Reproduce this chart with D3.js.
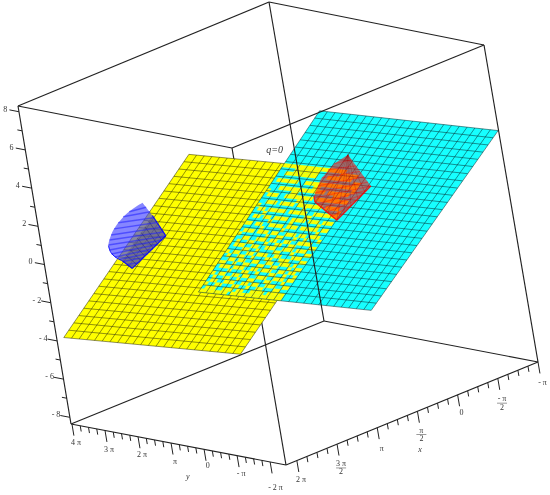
<!DOCTYPE html>
<html><head><meta charset="utf-8">
<style>html,body{margin:0;padding:0;background:#fff}svg{display:block}
text{font-family:"Liberation Serif",serif;fill:#333}</style>
<script src="https://cdn.jsdelivr.net/npm/d3@7/dist/d3.min.js"></script>
</head><body><svg id="c" width="550" height="495"><defs><filter id="soft" x="0" y="0" width="100%" height="100%" filterUnits="userSpaceOnUse"><feGaussianBlur stdDeviation="0.35"/></filter></defs></svg>
<script>
const PI = Math.PI;
// ---- axis values (x and y in multiples of pi)
const zTicks = [8,6,4,2,0,-2,-4,-6,-8];
const zMinor = [7,5,3,1,-1,-3,-5,-7];
const yTicks = [4,3,2,1,0,-1,-2];
const yTickLabels = ["4 π","3 π","2 π","π","0","- π","- 2 π"];
const yMinor = [3.75,3.5,3.25,2.75,2.5,2.25,1.75,1.5,1.25,.75,.5,.25,-.25,-.5,-.75,-1.25,-1.5,-1.75];
const xTicks = [2,1.5,1,.5,0,-.5,-1];
const xTickLabels = ["2 π",["3 π","2"],"π",["π","2"],"0",["- π","2"],"- π"];
const xMinor = [1.875,1.75,1.625,1.375,1.25,1.125,.875,.75,.625,.375,.25,.125,-.125,-.25,-.375,-.625,-.75,-.875];
// ---- plane corners [TL,TR,BR,BL]
const yellowX = [.865,-.122,1.132,2.119];
const yellowY = [2.337,-.449,1.061,3.848];
const yellowZ = [4.14,2.49,-5.44,-3.79];
const cyanX = [.006,-1,.273,1.213];
const cyanY = [.319,-2.467,-.957,1.83];
const cyanZ = [5.62,3.8,-3.95,-2.3];
const meshCols = 23, meshRows = 25;
// ---- where the two coplanar planes fight: 1 = yellow shows, 0 = cyan shows
const overlapS = [0,.474];
const overlapT = [.29,1];
const overlapPattern = [
"111111111111111111000000","000011111110000001111100","001111111110001111111000","000000000000000000000011",
"011111100111111111111111","000000000000110000000001","000111111111111101111110","100000011000000000011000",
"011100111111110111111111","000000000011000000000000","001110111101111111011110","100000000000010000000001",
"011011111011111001111111","000100000000000110000000","011011011110111101110111","000000100000100000001000",
"110110011110111011111011","000001000001000000000100","011101110110011101101110","100000001001100010010001",
"001100111011001100111100","010011000100110011000011","011100110011100111011100","000011001000011000100011",
"101100110111001100011100","010011001000110011100011","001101100110011001110100","110010011001100110001011",
"011101110011011100110110","000010001100100011001001","101100110110011100111011","010011001001100011000100",
"011001110011011001110011","100110001100100110001100","011100111011001111011111","111111110111111111111111"];
// ---- blue surface (level z)
const sheetZ = 1.64;
const blueOutlineX = [1.095,1.328,1.630,1.899,2.115,2.243,2.327,2.372,2.489,1.681,1.319];
const blueOutlineY = [3.431,3.265,2.886,2.431,1.976,1.593,1.237,.930,.339,1.296,2.583];
const blueRibX = [[1.334,1.173],[1.462,1.251],[1.606,1.361],[1.747,1.442],[1.883,1.532],[1.993,1.613],[2.101,1.686],[2.2,1.785],[2.276,1.898],[2.324,2.009],[2.36,2.12],[2.385,2.221],[2.431,2.347]];
const blueRibY = [[3.25,3.127],[3.122,2.817],[2.923,2.442],[2.702,2.142],[2.461,1.817],[2.239,1.528],[2.008,1.274],[1.734,1.155],[1.491,1.031],[1.267,.896],[1.058,.762],[.874,.653],[.641,.515]];
const blueFoldX = [1.319,1.681,2.489,2.372];
const blueFoldY = [2.583,1.296,.339,.93];
const blueHatchX = [[1.45,1.783],[1.583,1.884],[1.714,1.984],[1.846,2.085],[1.976,2.187],[2.107,2.287],[2.238,2.388]];
const blueHatchY = [[2.377,1.175],[2.167,1.053],[1.963,.938],[1.756,.817],[1.55,.697],[1.345,.582],[1.14,.46]];
// ---- red surface
const redOutlineX = [-.715,-.163,.677,.39,.27,-.11,-.473];
const redOutlineY = [1.607,-.433,-1.449,-.085,.239,.953,1.442];
const redRibX = [[-.473,-.627],[-.325,-.519],[-.135,-.421],[.046,-.323],[.203,-.234],[.311,-.163],[.424,-.065],[.488,.059],[.551,.183],[.614,.306]];
const redRibY = [[1.442,1.273],[1.263,.887],[.983,.526],[.662,.166],[.37,-.169],[.138,-.433],[-.228,-.552],[-.533,-.702],[-.838,-.852],[-1.143,-1]];
const redFanX = [.39,.471,.568,.677,.504,.331,.158,-.015];
const redFanY = [-.085,-.461,-.909,-1.449,-1.239,-1.031,-.821,-.612];

// ---- projection: three linear scales and the box frame
const sx = d3.scaleLinear().domain([2.135*PI,-PI]).range([0,1]);
const sy = d3.scaleLinear().domain([-2.48*PI,4.03*PI]).range([0,1]);
const sz = d3.scaleLinear().domain([-8.35,8.3]).range([0,1]);
const frame = {C:[286,465],D:[538,362],B:[71,424],H:[324,321],E:[232,148],G:[484,45],A:[18,106],F:[269,2]};
const lerp=(p,q,t)=>[p[0]+(q[0]-p[0])*t,p[1]+(q[1]-p[1])*t];
function project(x,y,z){
  const a=sx(x),b=sy(y),c=sz(z);
  const bot=lerp(lerp(frame.C,frame.D,a),lerp(frame.B,frame.H,a),b);
  const top=lerp(lerp(frame.E,frame.G,a),lerp(frame.A,frame.F,a),b);
  return lerp(bot,top,c);
}
const P=(xp,yp,z)=>project(xp*PI,yp*PI,z);
const svg=d3.select("#c").append("g").attr("filter","url(#soft)");
svg.append("rect").attr("width",550).attr("height",495).attr("fill","#fff");
const line=d3.line();
const poly=d3.line().curve(d3.curveLinearClosed);
const boxColor="#222";
function seg(g,a,b,w=1.15,col=boxColor,op=1){g.append("path").attr("d",line([a,b])).attr("fill","none").attr("stroke",col).attr("stroke-width",w).attr("stroke-opacity",op);}
const xMax=sx.domain()[0],xMin=sx.domain()[1],yMin=sy.domain()[0],yMax=sy.domain()[1],zMin=sz.domain()[0],zMax=sz.domain()[1];

// hidden box edges
const back=svg.append("g");
seg(back,project(xMax,yMin,zMax),project(xMax,yMin,zMin));

// planes
function corners(X,Y,Z){return X.map((v,i)=>[v,Y[i],Z[i]]);}
const Yc=corners(yellowX,yellowY,yellowZ), Cc=corners(cyanX,cyanY,cyanZ);
function bil(c,s,t){ // s along top edge, t down
  const m=(p,q,f)=>p.map((v,i)=>v+(q[i]-v)*f);
  const r=m(m(c[0],c[1],s),m(c[3],c[2],s),t);
  return P(r[0],r[1],r[2]);
}
const planes=svg.append("g");
function mesh(c,col){
  d3.range(meshCols+1).forEach(i=>seg(planes,bil(c,i/meshCols,0),bil(c,i/meshCols,1),.85,col,.62));
  d3.range(meshRows+1).forEach(i=>seg(planes,bil(c,0,i/meshRows),bil(c,1,i/meshRows),.85,col,.62));
}
planes.append("path").attr("d",poly(Yc.map(p=>P(...p)))).attr("fill","#ffff00");
mesh(Yc,"#2c2c10");
planes.append("path").attr("d",poly(Cc.map(p=>P(...p)))).attr("fill","#15ffff");
const rows=overlapPattern.length, cols=overlapPattern[0].length;
const sS=d3.scaleLinear().domain([0,cols]).range(overlapS), sT=d3.scaleLinear().domain([0,rows]).range(overlapT);
const cellsOn=[];
overlapPattern.forEach((row,r)=>row.split("").forEach((ch,c)=>{if(ch==="1")cellsOn.push([r,c]);}));
planes.selectAll("path.p").data(cellsOn).join("path").attr("class","p")
 .attr("d",([r,c])=>poly([bil(Cc,sS(c),sT(r)),bil(Cc,sS(c+1),sT(r)),bil(Cc,sS(c+1),sT(r+1)),bil(Cc,sS(c),sT(r+1))]))
 .attr("fill","#ffff00").attr("stroke","#ffff00").attr("stroke-width",.3);
mesh(Cc,"#0c2c30");

// blue surface
const blue=svg.append("g");
const Bo=blueOutlineX.map((v,i)=>P(v,blueOutlineY[i],sheetZ));
const bend=d3.line().curve(d3.curveCatmullRom);
blue.append("path").attr("d",bend(Bo.slice(0,9))+"L"+Bo.slice(9).join("L")+"Z").attr("fill","#3c3cff").attr("fill-opacity",.62);
blue.append("path").attr("d",poly(blueFoldX.map((v,i)=>P(v,blueFoldY[i],sheetZ)))).attr("fill","#5a5a70").attr("fill-opacity",.45);
blueRibX.forEach((xs,i)=>seg(blue,P(xs[0],blueRibY[i][0],sheetZ),P(xs[1],blueRibY[i][1],sheetZ),1.5,"#2020ff",.55));
blueHatchX.forEach((xs,i)=>seg(blue,P(xs[0],blueHatchY[i][0],sheetZ),P(xs[1],blueHatchY[i][1],sheetZ),.8,"#20207a",.6));
[[7,8],[8,9],[9,10]].forEach(([i,j])=>seg(blue,Bo[i],Bo[j],1.2,"#0000ff",.9));
blue.append("path").attr("d",bend(Bo.slice(4,8))).attr("fill","none").attr("stroke","#0000ff").attr("stroke-width",.9);

// red surface
const red=svg.append("g");
const Ro=redOutlineX.map((v,i)=>P(v,redOutlineY[i],sheetZ));
red.append("path").attr("d",poly(Ro)).attr("fill","#ff0808").attr("fill-opacity",.55);
redRibX.forEach((xs,i)=>seg(red,P(xs[0],redRibY[i][0],sheetZ),P(xs[1],redRibY[i][1],sheetZ),1.2,"#ff0000",.35));
redFanX.forEach((v,i)=>seg(red,Ro[0],P(v,redFanY[i],sheetZ),.7,"#a00000",.4));
[[1,2],[2,3],[3,4]].forEach(([i,j])=>seg(red,Ro[i],Ro[j],1.3,"#ff0000",.85));

// visible box edges
const box=svg.append("g");
const edges=[[xMax,yMax,zMax,xMax,yMax,zMin],[xMax,yMax,zMin,xMax,yMin,zMin],[xMax,yMin,zMin,xMin,yMin,zMin],
 [xMin,yMin,zMin,xMin,yMin,zMax],[xMin,yMin,zMax,xMin,yMax,zMax],[xMin,yMax,zMax,xMax,yMax,zMax],
 [xMax,yMax,zMax,xMax,yMin,zMax],[xMax,yMin,zMax,xMin,yMin,zMax],[xMin,yMax,zMax,xMin,yMax,zMin],
 [xMin,yMax,zMin,xMax,yMax,zMin],[xMin,yMax,zMin,xMin,yMin,zMin]];
edges.forEach(e=>seg(box,project(e[0],e[1],e[2]),project(e[3],e[4],e[5])));

// z axis
const ax=svg.append("g");
const zLen=.29*PI;
zTicks.forEach(z=>{
  const o=project(xMax,yMax,z);
  seg(ax,o,project(xMax,yMax+zLen,z),1);
  const q=project(xMax,yMax+zLen*1.45,z);
  ax.append("text").attr("x",q[0]).attr("y",q[1]+2.5).attr("text-anchor","middle").attr("font-size",8).text(z<0?"- "+(-z):z);
});
zMinor.forEach(z=>seg(ax,project(xMax,yMax,z),project(xMax,yMax+zLen/2,z),1));
// y axis
const tickZ=.6;
const yDrop=[.98,.98,.92,.95,.82,.92,1.35];
yTicks.forEach((y,i)=>{
  seg(ax,project(xMax,y*PI,zMin),project(xMax,y*PI,zMin-tickZ),1);
  const q=project(xMax,y*PI,zMin-yDrop[i]);
  ax.append("text").attr("x",q[0]+1).attr("y",q[1]+2.5).attr("text-anchor","middle").attr("font-size",8).text(yTickLabels[i]);
});
yMinor.forEach(y=>seg(ax,project(xMax,y*PI,zMin),project(xMax,y*PI,zMin-tickZ/2),1));
// x axis
const xDrop=[.98,1.25,1.08,1.22,.92,1.3,1.08];
xTicks.forEach((x,i)=>{
  seg(ax,project(x*PI,yMin,zMin),project(x*PI,yMin,zMin-tickZ),1);
  const q=project(x*PI,yMin,zMin-xDrop[i]);
  const lab=xTickLabels[i];
  if(Array.isArray(lab)){
    ax.append("text").attr("x",q[0]).attr("y",q[1]-2).attr("text-anchor","middle").attr("font-size",8).text(lab[0]);
    seg(ax,[q[0]-5,q[1]],[q[0]+5,q[1]],.6,"#555");
    ax.append("text").attr("x",q[0]).attr("y",q[1]+6.5).attr("text-anchor","middle").attr("font-size",8).text(lab[1]);
  } else {
    ax.append("text").attr("x",q[0]+1).attr("y",q[1]+2.5).attr("text-anchor","middle").attr("font-size",8).text(lab);
  }
});
xMinor.forEach(x=>seg(ax,project(x*PI,yMin,zMin),project(x*PI,yMin,zMin-tickZ/2),1));
// axis names and annotation
const name=(p,t,fs)=>ax.append("text").attr("x",p[0]).attr("y",p[1]).attr("text-anchor","middle").attr("font-size",fs).attr("font-style","italic").text(t);
name(project(xMax,.67*PI,-10.15),"y",8);
name(P(.55,-2.48,-10.4),"x",8);
name(P(-.526,3.388,sheetZ-.2),"q=0",10);
</script></body></html>
